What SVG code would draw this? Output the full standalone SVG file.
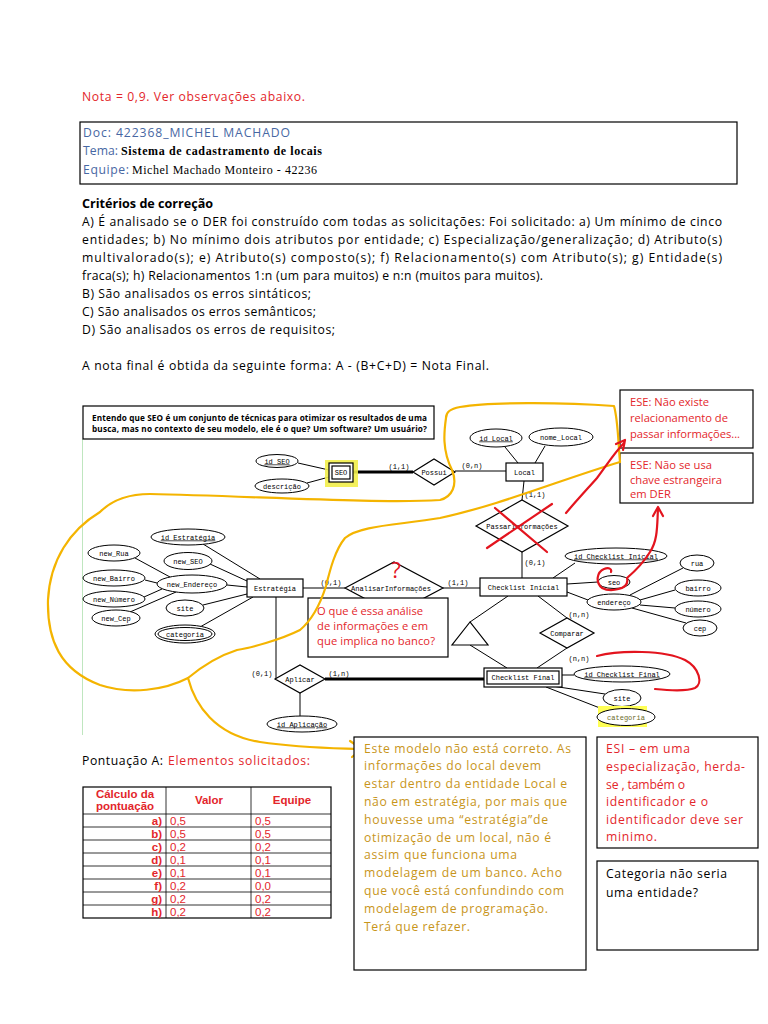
<svg xmlns="http://www.w3.org/2000/svg" width="768" height="1024" viewBox="0 0 768 1024">
<defs>
<style>
.t{font-family:"Open Sans","Noto Sans","Liberation Sans",sans-serif;font-size:12.2px;fill:#000}
.b{font-weight:bold}
.red{fill:#e3262b}
.blue{fill:#4767a3}
.org{fill:#c8951a}
.ser{font-family:"Liberation Serif",serif;font-size:12px;fill:#000}
.er{font-family:"Liberation Mono",monospace;font-size:7px;fill:#000;text-anchor:middle}
.ul{text-decoration:underline}
.ent{fill:#fff;stroke:#000;stroke-width:1.2}
.att{fill:#fff;stroke:#000;stroke-width:1}
.ln{stroke:#000;stroke-width:1;fill:none}
.thick{stroke:#000;stroke-width:3;fill:none}
.box{fill:#fff;stroke:#000;stroke-width:1.2}
.ye{fill:none;stroke:#f4b400;stroke-width:2.2;stroke-linecap:round;stroke-linejoin:round}
.rd{fill:none;stroke:#e3141e;stroke-width:2.2;stroke-linecap:round;stroke-linejoin:round}
.tbl{font-family:"Liberation Sans",Arial,sans-serif;font-size:11.5px;fill:#e3262b}
.grid{stroke:#000;stroke-width:0.8;fill:none}
</style>
</defs>
<rect width="768" height="1024" fill="#fff"/>

<g id="header">
<text class="t red" x="82" y="101" textLength="223">Nota = 0,9. Ver observações abaixo.</text>
<rect x="80" y="122" width="657" height="62" fill="none" stroke="#000" stroke-width="1.2"/>
<text class="t blue" x="83" y="137" textLength="207">Doc: 422368_MICHEL MACHADO</text>
<text class="t blue" x="83" y="155" textLength="35">Tema:</text>
<text class="ser b" x="121" y="155" textLength="201">Sistema de cadastramento de locais</text>
<text class="t blue" x="83" y="174" textLength="46">Equipe:</text>
<text class="ser" x="132" y="174" textLength="185">Michel Machado Monteiro - 42236</text>
</g>

<g id="criteria">
<text class="t b" style="font-size:12.6px" x="82" y="208">Critérios de correção</text>
<text class="t" x="82" y="226" textLength="640" lengthAdjust="spacing">A) É analisado se o DER foi construído com todas as solicitações: Foi solicitado: a) Um mínimo de cinco</text>
<text class="t" x="82" y="244" textLength="640" lengthAdjust="spacing">entidades; b) No mínimo dois atributos por entidade; c) Especialização/generalização; d) Atributo(s)</text>
<text class="t" x="82" y="262" textLength="640" lengthAdjust="spacing">multivalorado(s); e) Atributo(s) composto(s); f) Relacionamento(s) com Atributo(s); g) Entidade(s)</text>
<text class="t" x="82" y="280" textLength="461">fraca(s); h) Relacionamentos 1:n (um para muitos) e n:n (muitos para muitos).</text>
<text class="t" x="82" y="298" textLength="229">B) São analisados os erros sintáticos;</text>
<text class="t" x="82" y="316" textLength="234">C) São analisados os erros semânticos;</text>
<text class="t" x="82" y="334" textLength="253">D) São analisados os erros de requisitos;</text>
<text class="t" x="82" y="370" textLength="407">A nota final é obtida da seguinte forma: A - (B+C+D) = Nota Final.</text>
</g>

<line x1="82.5" y1="439" x2="82.5" y2="735" stroke="#bfe6bf" stroke-width="1"/>

<g id="comment-seo">
<rect class="box" x="83" y="406" width="351" height="33"/>
<text class="t b" style="font-size:8.2px" x="92" y="421" textLength="335">Entendo que SEO é um conjunto de técnicas para otimizar os resultados de uma</text>
<text class="t b" style="font-size:8.2px" x="92" y="432" textLength="335">busca, mas no contexto de seu modelo, ele é o que? Um software? Um usuário?</text>
</g>

<g id="connectors">
<line class="ln" x1="298" y1="463" x2="329" y2="470"/>
<line class="ln" x1="307" y1="483" x2="329" y2="477"/>
<line class="thick" x1="353" y1="472" x2="413" y2="472"/>
<line class="ln" x1="455" y1="471" x2="506" y2="471"/>
<line class="ln" x1="505" y1="447" x2="518" y2="463"/>
<line class="ln" x1="545" y1="446" x2="535" y2="463"/>
<line class="ln" x1="524" y1="481" x2="522" y2="500"/>
<line class="ln" x1="522" y1="552" x2="522" y2="578"/>
<line class="ln" x1="575" y1="563" x2="553" y2="578"/>
<line class="ln" x1="567" y1="584" x2="598" y2="582"/>
<line class="ln" x1="567" y1="592" x2="588" y2="600"/>
<line class="ln" x1="630" y1="595" x2="683" y2="568"/>
<line class="ln" x1="640" y1="600" x2="675" y2="590"/>
<line class="ln" x1="640" y1="605" x2="675" y2="608"/>
<line class="ln" x1="632" y1="608" x2="686" y2="623"/>
<line class="ln" x1="303" y1="588" x2="345" y2="588"/>
<line class="ln" x1="443" y1="588" x2="480" y2="588"/>
<line class="ln" x1="203" y1="544" x2="260" y2="579"/>
<line class="ln" x1="210" y1="564" x2="247" y2="581"/>
<line class="ln" x1="227" y1="585" x2="247" y2="587"/>
<line class="ln" x1="203" y1="605" x2="247" y2="594"/>
<line class="ln" x1="200" y1="627" x2="253" y2="597"/>
<line class="ln" x1="135" y1="558" x2="170" y2="577"/>
<line class="ln" x1="145" y1="580" x2="157" y2="583"/>
<line class="ln" x1="144" y1="597" x2="162" y2="589"/>
<line class="ln" x1="130" y1="612" x2="176" y2="592"/>
<polyline class="ln" points="276,597 276,679 275,679"/>
<line class="thick" x1="325" y1="679" x2="484" y2="679"/>
<line class="ln" x1="300" y1="693" x2="300" y2="716"/>
<line class="ln" x1="562" y1="675" x2="574" y2="675"/>
<line class="ln" x1="552" y1="686" x2="605" y2="694"/>
<line class="ln" x1="546" y1="687" x2="605" y2="710"/>
<line class="ln" x1="508" y1="596" x2="470" y2="622"/>
<line class="ln" x1="470" y1="645" x2="507" y2="668"/>
<line class="ln" x1="538" y1="596" x2="567" y2="618"/>
<line class="ln" x1="567" y1="648" x2="537" y2="668"/>
<text class="er" x="399" y="469">(1,1)</text>
<text class="er" x="472" y="468">(0,n)</text>
<text class="er" x="535" y="497">(1,1)</text>
<text class="er" x="535" y="565">(0,1)</text>
<text class="er" x="331" y="585">(0,1)</text>
<text class="er" x="458" y="585">(1,1)</text>
<text class="er" x="262" y="676">(0,1)</text>
<text class="er" x="339" y="676">(1,n)</text>
<text class="er" x="579" y="617">(n,n)</text>
<text class="er" x="579" y="661">(n,n)</text>
</g>

<g id="seo">
<rect x="325" y="460" width="33" height="27" fill="#f2ee4a" opacity="0.9"/>
<rect class="ent" x="329" y="463" width="24" height="19"/>
<rect class="ent" x="332" y="466" width="18" height="13"/>
<text class="er" x="341" y="475">SEO</text>
</g>
<g id="id-seo"><ellipse class="att" cx="277" cy="461" rx="21" ry="6.5"/><text class="er ul" x="277" y="463.5">id SEO</text></g>
<g id="descricao"><ellipse class="att" cx="282" cy="486" rx="27" ry="7"/><text class="er" x="282" y="488.5">descrição</text></g>
<g id="possui"><polygon class="ent" points="413,472 434,459 455,472 434,485"/><text class="er" x="434" y="474.5">Possui</text></g>
<g id="local"><rect class="ent" x="506" y="463" width="37" height="18"/><text class="er" x="524.5" y="474.5">Local</text></g>
<g id="id-local"><ellipse class="att" cx="496" cy="438" rx="26" ry="9"/><text class="er ul" x="496" y="440.5">id Local</text></g>
<g id="nome-local"><ellipse class="att" cx="561" cy="437" rx="32" ry="9"/><text class="er" x="561" y="439.5">nome_Local</text></g>
<g id="passar"><polygon class="ent" points="476,526 522,500 568,526 522,552"/><text class="er" x="522" y="528.5">PassarInformações</text></g>
<g id="checklist-inicial"><rect class="ent" x="480" y="578" width="87" height="18"/><text class="er" x="523.5" y="589.5">Checklist Inicial</text></g>
<g id="id-checklist-inicial"><ellipse class="att" cx="616" cy="556" rx="51" ry="8"/><text class="er ul" x="616" y="558.5">id Checklist Inicial</text></g>
<g id="seo-attr"><ellipse class="att" cx="614" cy="582" rx="16" ry="6.5"/><text class="er" x="614" y="584.5">seo</text></g>
<g id="endereco"><ellipse class="att" cx="614" cy="602" rx="27" ry="8"/><text class="er" x="614" y="604.5">endereço</text></g>
<g id="rua"><ellipse class="att" cx="697" cy="563" rx="17" ry="8"/><text class="er" x="697" y="565.5">rua</text></g>
<g id="bairro"><ellipse class="att" cx="698" cy="588" rx="23" ry="8"/><text class="er" x="698" y="590.5">bairro</text></g>
<g id="numero"><ellipse class="att" cx="698" cy="609" rx="23" ry="8"/><text class="er" x="698" y="611.5">número</text></g>
<g id="cep"><ellipse class="att" cx="700" cy="628" rx="17" ry="8"/><text class="er" x="700" y="630.5">cep</text></g>
<g id="analisar"><polygon class="ent" points="345,588 394,562 443,588 394,614"/><text class="er" x="391" y="591">AnalisarInformações</text></g>
<g id="estrategia"><rect class="ent" x="247" y="579" width="56" height="18"/><text class="er" x="275" y="590.5">Estratégia</text></g>
<g id="id-estrategia"><ellipse class="att" cx="188" cy="537" rx="37" ry="8"/><text class="er ul" x="188" y="539.5">id Estratégia</text></g>
<g id="new-seo"><ellipse class="att" cx="188" cy="561" rx="24" ry="8.5"/><text class="er" x="188" y="563.5">new_SEO</text></g>
<g id="new-endereco"><ellipse class="att" cx="192" cy="584" rx="35" ry="9"/><text class="er" x="192" y="586.5">new_Endereço</text></g>
<g id="new-rua"><ellipse class="att" cx="114" cy="553" rx="26" ry="8"/><text class="er" x="114" y="555.5">new_Rua</text></g>
<g id="new-bairro"><ellipse class="att" cx="114" cy="578" rx="31" ry="8"/><text class="er" x="114" y="580.5">new_Bairro</text></g>
<g id="new-numero"><ellipse class="att" cx="114" cy="599" rx="31" ry="8"/><text class="er" x="114" y="601.5">new_Número</text></g>
<g id="new-cep"><ellipse class="att" cx="116" cy="618" rx="24" ry="8"/><text class="er" x="116" y="620.5">new_Cep</text></g>
<g id="site-estr"><ellipse class="att" cx="185" cy="608" rx="19" ry="8"/><text class="er" x="185" y="610.5">site</text></g>
<g id="categoria-estr"><ellipse class="att" cx="185" cy="634" rx="30" ry="9"/><ellipse class="att" cx="185" cy="634" rx="27" ry="6.5"/><text class="er" x="185" y="636.5">categoria</text></g>
<g id="aplicar"><polygon class="ent" points="275,679 300,665 325,679 300,693"/><text class="er" x="300" y="681.5">Aplicar</text></g>
<g id="id-aplicacao"><ellipse class="att" cx="302" cy="724" rx="35" ry="8"/><text class="er ul" x="302" y="726.5">id Aplicação</text></g>
<g id="especializacao"><polygon class="ent" points="470,622 452,645 488,645"/></g>
<g id="comparar"><polygon class="ent" points="540,633 567,618 594,633 567,648"/><text class="er" x="567" y="635.5">Comparar</text></g>
<g id="checklist-final"><rect class="ent" x="484" y="668" width="78" height="19"/><rect class="ent" x="487" y="671" width="72" height="13"/><text class="er" x="523" y="680">Checklist Final</text></g>
<g id="id-checklist-final"><ellipse class="att" cx="622" cy="674" rx="48" ry="8"/><text class="er ul" x="622" y="676.5">id Checklist Final</text></g>
<g id="site-final"><ellipse class="att" cx="622" cy="698" rx="19" ry="8.5"/><text class="er" x="622" y="700.5">site</text></g>
<g id="categoria-final"><rect x="598" y="706" width="49" height="21" fill="#ffff55"/><ellipse class="att" cx="626" cy="717" rx="29" ry="8.5" fill="none"/><text class="er" x="626" y="719.5" style="fill:#6b6b2a">categoria</text></g>

<g id="box-analise">
<rect class="box" x="308" y="598" width="140" height="59"/>
<text class="t red" style="font-size:11.2px" x="317" y="615" textLength="106">O que é essa análise</text>
<text class="t red" style="font-size:11.2px" x="317" y="630" textLength="111">de informações e em</text>
<text class="t red" style="font-size:11.2px" x="317" y="645" textLength="118">que implica no banco?</text>
</g>

<g id="box-ese1">
<rect class="box" x="620" y="390" width="133" height="58"/>
<text class="t red" style="font-size:11.2px" x="630" y="406" textLength="79">ESE: Não existe</text>
<text class="t red" style="font-size:11.2px" x="630" y="422" textLength="98">relacionamento de</text>
<text class="t red" style="font-size:11.2px" x="630" y="438" textLength="110">passar informações...</text>
</g>
<g id="box-ese2">
<rect class="box" x="620" y="453" width="133" height="50"/>
<text class="t red" style="font-size:11.2px" x="630" y="469" textLength="82">ESE: Não se usa</text>
<text class="t red" style="font-size:11.2px" x="630" y="483.5" textLength="92">chave estrangeira</text>
<text class="t red" style="font-size:11.2px" x="630" y="497.5">em DER</text>
</g>

<g id="annotations">
<path class="ye" d="M620,462 C618,440 618,420 614,406 C560,402 490,402 460,407 C450,409 446,412 446,418 C444,432 442,450 452,470 C458,485 452,497 440,500 C380,504 250,496 150,494 C130,494 112,500 100,512 C70,530 50,560 48,600 C47,640 60,670 100,685 C130,695 165,690 188,678"/>
<path class="ye" d="M620,462 C560,480 500,505 440,518 C400,525 360,525 345,538 C335,550 330,570 326,586 C320,605 312,620 300,630 C280,640 250,648 237,650 C215,657 200,668 188,678"/>
<path class="ye" d="M188,678 C195,705 215,735 260,742 C300,748 330,748 360,749"/>
<path class="ye" d="M350,741 L362,749 L352,757"/>
<path class="rd" d="M495,508 L547,552 M552,504 L487,548"/>
<path class="rd" d="M566,513 C577,500 590,486 597,478 C606,466 615,452 624,443"/>
<path class="rd" d="M616,444 L625,440 L623,450"/>
<path class="rd" d="M658,509 C657,525 658,540 650,552 C642,565 634,572 627,578 C630,590 610,592 602,588 C595,582 597,572 604,569 C609,567 612,569 611,572"/>
<path class="rd" d="M653,516 L658,507 L663,516"/>
<path class="rd" d="M597,656 C620,650 665,650 685,660 C700,668 703,684 695,688 C685,692 665,690 655,689"/>
<text x="396" y="578" text-anchor="middle" style="font-family:'Open Sans',sans-serif;font-size:22px;fill:#e3141e">?</text>
</g>

<g id="pontuacao">
<text class="t" x="82" y="765" textLength="81">Pontuação A:</text>
<text class="t red" x="168" y="765" textLength="142">Elementos solicitados:</text>
</g>

<g id="table">
<rect x="83" y="787" width="248" height="131" fill="#fff" stroke="#000" stroke-width="1.2"/>
<line class="grid" x1="166" y1="787" x2="166" y2="918"/>
<line class="grid" x1="251" y1="787" x2="251" y2="918"/>
<line class="grid" x1="83" y1="814" x2="331" y2="814"/>
<line class="grid" x1="83" y1="827" x2="331" y2="827"/>
<line class="grid" x1="83" y1="840" x2="331" y2="840"/>
<line class="grid" x1="83" y1="853" x2="331" y2="853"/>
<line class="grid" x1="83" y1="866" x2="331" y2="866"/>
<line class="grid" x1="83" y1="879" x2="331" y2="879"/>
<line class="grid" x1="83" y1="892" x2="331" y2="892"/>
<line class="grid" x1="83" y1="905" x2="331" y2="905"/>
<text class="tbl b" x="125" y="798" text-anchor="middle">Cálculo da</text>
<text class="tbl b" x="125" y="810" text-anchor="middle">pontuação</text>
<text class="tbl b" x="209" y="804" text-anchor="middle">Valor</text>
<text class="tbl b" x="292" y="804" text-anchor="middle">Equipe</text>
<g class="tbl" text-anchor="end" font-weight="bold">
<text x="162" y="825">a)</text><text x="162" y="838">b)</text><text x="162" y="851">c)</text><text x="162" y="864">d)</text>
<text x="162" y="877">e)</text><text x="162" y="890">f)</text><text x="162" y="903">g)</text><text x="162" y="916">h)</text>
</g>
<g class="tbl">
<text x="170" y="825">0,5</text><text x="170" y="838">0,5</text><text x="170" y="851">0,2</text><text x="170" y="864">0,1</text>
<text x="170" y="877">0,1</text><text x="170" y="890">0,2</text><text x="170" y="903">0,2</text><text x="170" y="916">0,2</text>
<text x="255" y="825">0,5</text><text x="255" y="838">0,5</text><text x="255" y="851">0,2</text><text x="255" y="864">0,1</text>
<text x="255" y="877">0,1</text><text x="255" y="890">0,0</text><text x="255" y="903">0,2</text><text x="255" y="916">0,2</text>
</g>
</g>

<g id="box-modelo">
<rect class="box" x="354" y="737" width="232" height="233"/>
<g class="t org" style="font-size:12.2px">
<text x="364" y="752.5" textLength="207">Este modelo não está correto. As</text>
<text x="364" y="770.3" textLength="177">informações do local devem</text>
<text x="364" y="788.1" textLength="203">estar dentro da entidade Local e</text>
<text x="364" y="805.9" textLength="203">não em estratégia, por mais que</text>
<text x="364" y="823.7" textLength="184">houvesse uma “estratégia”de</text>
<text x="364" y="841.5" textLength="187">otimização de um local, não é</text>
<text x="364" y="859.3" textLength="153">assim que funciona uma</text>
<text x="364" y="877.1" textLength="198">modelagem de um banco. Acho</text>
<text x="364" y="894.9" textLength="200">que você está confundindo com</text>
<text x="364" y="912.7" textLength="184">modelagem de programação.</text>
<text x="364" y="930.5" textLength="106">Terá que refazer.</text>
</g>
</g>

<g id="box-esi">
<rect class="box" x="597" y="737" width="161" height="111"/>
<g class="t red" style="font-size:12.2px">
<text x="606" y="752.5" textLength="84">ESI – em uma</text>
<text x="606" y="771" textLength="139">especialização, herda-</text>
<text x="606" y="788.5" textLength="79">se , também o</text>
<text x="606" y="806" textLength="102">identificador e o</text>
<text x="606" y="823.5" textLength="137">identificador deve ser</text>
<text x="606" y="841" textLength="51">minimo.</text>
</g>
</g>

<g id="box-categoria">
<rect class="box" x="597" y="861" width="161" height="89"/>
<text class="t" style="font-size:12.2px" x="606" y="877.5" textLength="121">Categoria não seria</text>
<text class="t" style="font-size:12.2px" x="606" y="896.5" textLength="92">uma entidade?</text>
</g>
</svg>
